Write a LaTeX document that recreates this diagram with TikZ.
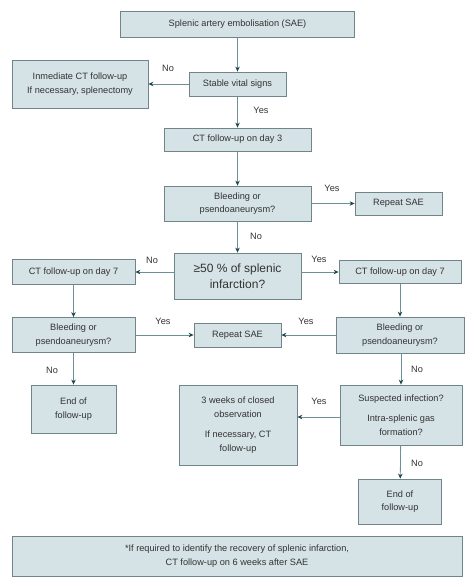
\documentclass[tikz,border=0pt]{standalone}
\usepackage{fontspec}
\setmainfont{Liberation Sans}
\usepackage{tikz}
\usetikzlibrary{arrows.meta}
\usetikzlibrary{calc}
\definecolor{boxfill}{HTML}{D5E2E6}
\definecolor{boxline}{HTML}{6F8589}
\definecolor{flowline}{HTML}{6F8F96}
\definecolor{flowtip}{HTML}{1E4550}
\definecolor{textgray}{HTML}{333333}

\begin{document}
\begin{tikzpicture}[
        x=1pt, y=-1pt, font=\fontsize{9.2}{13.5}\selectfont,
        block/.style={draw=boxline, fill=boxfill, thick, text=textgray, align=center, inner sep=2pt},
        flow/.style={-{Stealth[length=5pt, width=4.5pt, color=flowtip]}, thick, flowline},
        answer/.style={text=textgray, font=\fontsize{9.2}{11}\selectfont},
    ]
        \useasboundingbox (0,0) rectangle (474,587);

        % --- Cajas del tronco central ---
        \node[block, minimum width=234pt, minimum height=26pt] (sae) at (237.5,24) {Splenic artery embolisation (SAE)};
        \node[block, minimum width=97pt, minimum height=24pt] (vital) at (237.5,84) {Stable vital signs};
        \node[block, minimum width=136pt, minimum height=48pt] (immed) at (80,84) {Inmediate CT follow-up\\If necessary, splenectomy};
        \node[block, minimum width=147pt, minimum height=23pt] (ct3) at (237.5,139.5) {CT follow-up on day 3};
        \node[block, minimum width=147pt, minimum height=35pt] (bleed) at (237.5,203.5) {Bleeding or\\psendoaneurysm?};
        \node[block, minimum width=87pt, minimum height=23pt] (repeatA) at (398.5,203.5) {Repeat SAE};
        \node[block, minimum width=127pt, minimum height=46pt, font=\fontsize{12}{16.5}\selectfont] (infarct) at (237.5,276) {≥50 \% of splenic\\infarction?};

        % --- Rama izquierda ---
        \node[block, minimum width=123pt, minimum height=25pt] (ctL) at (73.5,272) {CT follow-up on day 7};
        \node[block, minimum width=123pt, minimum height=35pt] (bleedL) at (73.5,335) {Bleeding or\\psendoaneurysm?};
        \node[block, minimum width=85pt, minimum height=48pt] (endL) at (73.5,409) {End of\\follow-up};

        % --- Rama derecha ---
        \node[block, minimum width=122pt, minimum height=23pt] (ctR) at (400,272) {CT follow-up on day 7};
        \node[block, minimum width=128pt, minimum height=36pt] (bleedR) at (400,335) {Bleeding or\\psendoaneurysm?};
        \node[block, minimum width=87pt, minimum height=24pt] (repeatB) at (237.5,335) {Repeat SAE};
        \node[block, minimum width=122pt, minimum height=60pt] (infect) at (401,415) {Suspected infection?\\[7pt]Intra-splenic gas\\formation?};
        \node[block, minimum width=118pt, minimum height=80pt] (observe) at (238,425) {3 weeks of closed\\observation\\[7pt]If necessary, CT\\follow-up};
        \node[block, minimum width=83pt, minimum height=45pt] (endR) at (400,501.5) {End of\\follow-up};

        % --- Nota al pie ---
        \node[block, minimum width=450pt, minimum height=40pt] (note) at (237,556) {*If required to identify the recovery of splenic infarction,\\CT follow-up on 6 weeks after SAE};

        % --- Flechas ---
        \draw[flow] (sae) -- (vital);
        \draw[flow] (vital) -- (immed);
        \draw[flow] (vital) -- (ct3);
        \draw[flow] (ct3) -- (bleed);
        \draw[flow] (bleed) -- (repeatA);
        \draw[flow] (bleed) -- (infarct);
        \draw[flow] (infarct.west |- ctL) -- (ctL);
        \draw[flow] (infarct.east |- ctR) -- (ctR);
        \draw[flow] (ctL) -- (bleedL);
        \draw[flow] (ctR) -- (bleedR);
        \draw[flow] (bleedL) -- (repeatB);
        \draw[flow] (bleedR) -- (repeatB);
        \draw[flow] (bleedL) -- (endL);
        \draw[flow] (bleedR.south -| infect) -- (infect);
        \draw[flow] ($(infect.west)+(0,2)$) -- ($(infect.west -| observe.east)+(0,2)$);
        \draw[flow] (infect) -- (endR);

        % --- Etiquetas Si/No ---
        \foreach \txt/\px/\py in {No/168/68, Yes/261/110, Yes/332/188, No/256/236,
                                  No/152/260, Yes/319/259, Yes/163/321, Yes/306/321,
                                  No/52/370, No/417/369, Yes/319/401, No/417/463} {
            \node[answer] at (\px,\py) {\txt};
        }
    \end{tikzpicture}
\end{document}
